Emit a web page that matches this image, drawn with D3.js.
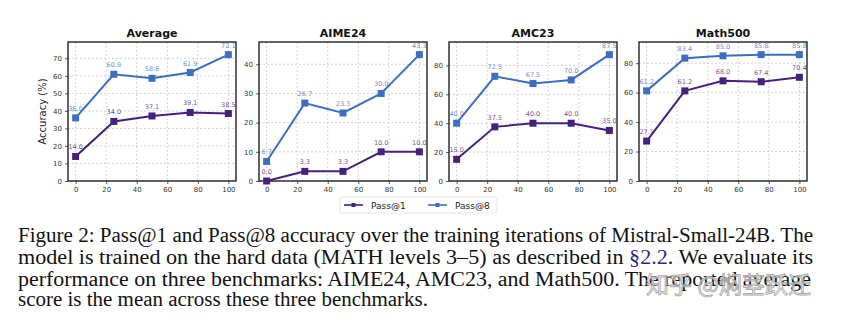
<!DOCTYPE html>
<html>
<head>
<meta charset="utf-8">
<script src="https://cdn.jsdelivr.net/npm/d3@7"></script>
<style>
  body { margin: 0; background: #fff; }
  svg { display: block; }
</style>
</head>
<body>
<script>
var steps = [0, 25, 50, 75, 100];
var titles = ['Average', 'AIME24', 'AMC23', 'Math500'];
var pass1 = [
  [14.0, 34.0, 37.1, 39.1, 38.5],
  [0.0, 3.3, 3.3, 10.0, 10.0],
  [15.0, 37.5, 40.0, 40.0, 35.0],
  [27.1, 61.2, 68.0, 67.4, 70.4]
];
var pass8 = [
  [36.0, 60.9, 58.6, 61.9, 72.1],
  [6.7, 26.7, 23.3, 30.0, 43.3],
  [40.0, 72.5, 67.5, 70.0, 87.5],
  [61.2, 83.4, 85.0, 85.8, 85.8]
];
var yTickSteps = [10, 10, 20, 20];
var xTicks = [0, 20, 40, 60, 80, 100];
var seriesNames = ['Pass@1', 'Pass@8'];
var captionLines = [
  'Figure 2: Pass@1 and Pass@8 accuracy over the training iterations of Mistral-Small-24B. The',
  'model is trained on the hard data (MATH levels 3\u20135) as described in \u00a72.2. We evaluate its',
  'performance on three benchmarks: AIME24, AMC23, and Math500. The reported average',
  'score is the mean across these three benchmarks.'
];

var colors = ['#46207f', '#3b6fc0'];
var W = 849, H = 321;
var svg = d3.select('body').append('svg').attr('width', W).attr('height', H);

var pw = 168, ph = 139, plotTop = 42;
var lefts = [68, 259, 449, 639];

titles.forEach(function (t, k) {
  var g = svg.append('g').attr('transform', 'translate(' + lefts[k] + ',' + plotTop + ')');
  var ymax = d3.max(pass8[k]) * 1.1;
  var x = d3.scaleLinear().domain([-5, 105]).range([0, pw]);
  var y = d3.scaleLinear().domain([0, ymax]).range([ph, 0]);
  var yTicks = d3.range(0, ymax, yTickSteps[k]);

  // grid
  g.selectAll('.gx').data(xTicks).enter().append('line')
    .attr('x1', function (d) { return x(d); }).attr('x2', function (d) { return x(d); })
    .attr('y1', 0).attr('y2', ph)
    .attr('stroke', '#c8c8c8').attr('stroke-width', 0.8).attr('stroke-dasharray', '2,2');
  g.selectAll('.gy').data(yTicks).enter().append('line')
    .attr('y1', function (d) { return y(d); }).attr('y2', function (d) { return y(d); })
    .attr('x1', 0).attr('x2', pw)
    .attr('stroke', '#c8c8c8').attr('stroke-width', 0.8).attr('stroke-dasharray', '2,2');

  var xAxis = d3.axisBottom(x).tickValues(xTicks).tickSize(3).tickPadding(3);
  var yAxis = d3.axisLeft(y).tickValues(yTicks).tickSize(3).tickPadding(3);
  var gx = g.append('g').attr('transform', 'translate(0,' + ph + ')').call(xAxis);
  var gy = g.append('g').call(yAxis);
  [gx, gy].forEach(function (a) {
    a.select('.domain').remove();
    a.selectAll('text').attr('font-family', 'DejaVu Sans').attr('font-size', 7).attr('fill', '#333');
    a.selectAll('line').attr('stroke', '#333').attr('stroke-width', 0.8);
  });

  // box
  g.append('rect').attr('width', pw).attr('height', ph)
    .attr('fill', 'none').attr('stroke', '#222').attr('stroke-width', 1.4);

  // title
  g.append('text').attr('x', pw / 2).attr('y', -5).attr('text-anchor', 'middle')
    .attr('font-family', 'DejaVu Sans').attr('font-weight', 'bold').attr('font-size', 11)
    .attr('fill', '#111').text(t);

  var line = d3.line().x(function (d, i) { return x(steps[i]); }).y(function (d) { return y(d); });
  [pass1[k], pass8[k]].forEach(function (vals, s) {
    g.append('path').attr('d', line(vals)).attr('fill', 'none')
      .attr('stroke', colors[s]).attr('stroke-width', 2);
    g.selectAll('.m' + s).data(vals).enter().append('rect')
      .attr('x', function (d, i) { return x(steps[i]) - 3.5; })
      .attr('y', function (d) { return y(d) - 3.5; })
      .attr('width', 7).attr('height', 7).attr('fill', colors[s]);
    g.selectAll('.l' + s).data(vals).enter().append('text')
      .attr('x', function (d, i) { return x(steps[i]); })
      .attr('y', function (d) { return y(d) - 7; })
      .attr('text-anchor', 'middle').attr('font-family', 'DejaVu Sans').attr('font-size', 6.5)
      .attr('fill', colors[s]).attr('fill-opacity', 0.8)
      .text(function (d) { return d.toFixed(1); });
  });

  if (k === 0) {
    g.append('text').attr('transform', 'translate(-22,' + ph / 2 + ') rotate(-90)')
      .attr('text-anchor', 'middle').attr('font-family', 'DejaVu Sans').attr('font-size', 10)
      .attr('fill', '#222').text('Accuracy (%)');
  }
});

// legend
var lg = svg.append('g').attr('transform', 'translate(340,197)');
lg.append('rect').attr('width', 157).attr('height', 16).attr('rx', 2)
  .attr('fill', '#fff').attr('stroke', '#ddd').attr('stroke-width', 0.8);
seriesNames.forEach(function (n, s) {
  var ox = 4 + s * 84;
  lg.append('line').attr('x1', ox).attr('x2', ox + 19).attr('y1', 8).attr('y2', 8)
    .attr('stroke', colors[s]).attr('stroke-width', 1.6);
  lg.append('rect').attr('x', ox + 7.5).attr('y', 6).attr('width', 4).attr('height', 4).attr('fill', colors[s]);
  lg.append('text').attr('x', ox + 27).attr('y', 11.5).attr('font-family', 'DejaVu Sans')
    .attr('font-size', 9).attr('fill', '#222').text(n);
});

// caption
var capY = [242, 264, 286, 306];
var capW = [795, 795, 793, 410];
captionLines.forEach(function (c, i) {
  var tx = svg.append('text').attr('x', 18).attr('y', capY[i])
    .attr('font-family', 'Liberation Serif').attr('font-size', 20).attr('fill', '#111')
    .attr('textLength', capW[i]).attr('lengthAdjust', 'spacingAndGlyphs');
  if (c.indexOf('\u00a72.2') >= 0) {
    var parts = c.split('\u00a72.2');
    tx.append('tspan').text(parts[0]);
    tx.append('tspan').attr('fill', '#2a2a8a').text('\u00a72.2');
    tx.append('tspan').text(parts[1]);
  } else {
    tx.text(c);
  }
});

// watermark
svg.append('text').attr('x', 646).attr('y', 293)
  .attr('font-family', 'Noto Sans CJK SC').attr('font-size', 23)
  .attr('fill', '#fff').attr('fill-opacity', 0.55)
  .attr('stroke', '#aaa').attr('stroke-width', 0.9)
  .text('知乎 @焖茎跃迁');
</script>
</body>
</html>
